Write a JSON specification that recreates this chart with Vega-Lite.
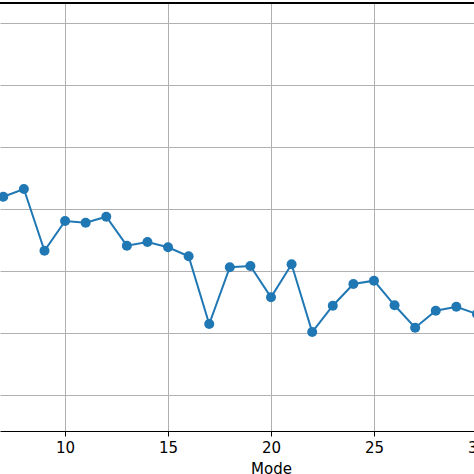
{
  "$schema": "https://vega.github.io/schema/vega-lite/v6.json",
  "width": 542,
  "height": 428,
  "autosize": {"type": "none"},
  "padding": {"left": 0, "top": 3, "right": -68, "bottom": 43},
  "background": "white",
  "data": {
    "values": [
      {"mode": 7, "value": 4.198},
      {"mode": 8, "value": 4.323},
      {"mode": 9, "value": 3.327},
      {"mode": 10, "value": 3.806},
      {"mode": 11, "value": 3.779},
      {"mode": 12, "value": 3.876},
      {"mode": 13, "value": 3.408},
      {"mode": 14, "value": 3.468},
      {"mode": 15, "value": 3.382},
      {"mode": 16, "value": 3.237},
      {"mode": 17, "value": 2.145},
      {"mode": 18, "value": 3.060},
      {"mode": 19, "value": 3.081},
      {"mode": 20, "value": 2.576},
      {"mode": 21, "value": 3.108},
      {"mode": 22, "value": 2.016},
      {"mode": 23, "value": 2.440},
      {"mode": 24, "value": 2.790},
      {"mode": 25, "value": 2.844},
      {"mode": 26, "value": 2.447},
      {"mode": 27, "value": 2.085},
      {"mode": 28, "value": 2.360},
      {"mode": 29, "value": 2.424},
      {"mode": 30, "value": 2.306}
    ]
  },
  "layer": [
    {
      "mark": {"type": "line", "color": "#1f77b4", "strokeWidth": 2, "clip": true},
      "encoding": {
        "x": {
          "field": "mode",
          "type": "quantitative",
          "title": "Mode",
          "scale": {"domain": [6.84, 33.16], "nice": false, "zero": false},
          "axis": {"values": [10, 15, 20, 25, 30], "labelFlush": false}
        },
        "y": {
          "field": "value",
          "type": "quantitative",
          "scale": {"domain": [0.419, 7.323], "nice": false, "zero": false},
          "axis": {
            "values": [1, 2, 3, 4, 5, 6, 7],
            "labels": false,
            "ticks": false,
            "domain": false,
            "title": null
          }
        }
      }
    },
    {
      "mark": {"type": "circle", "color": "#1f77b4", "opacity": 1, "size": 100, "clip": true},
      "encoding": {
        "x": {"field": "mode", "type": "quantitative"},
        "y": {"field": "value", "type": "quantitative"}
      }
    },
    {
      "mark": {"type": "rule", "color": "#000000", "strokeWidth": 1.2},
      "encoding": {"y": {"datum": 7.323}}
    }
  ],
  "config": {
    "view": {"stroke": null},
    "font": "DejaVu Sans",
    "axis": {
      "gridColor": "#b0b0b0",
      "gridWidth": 1,
      "domainColor": "#000000",
      "domainWidth": 1.2,
      "tickColor": "#000000",
      "tickSize": 5,
      "labelColor": "#000000",
      "labelFontSize": 15,
      "labelPadding": 4,
      "titleColor": "#000000",
      "titleFontSize": 15,
      "titleFontWeight": "normal",
      "titlePadding": 6
    }
  }
}
